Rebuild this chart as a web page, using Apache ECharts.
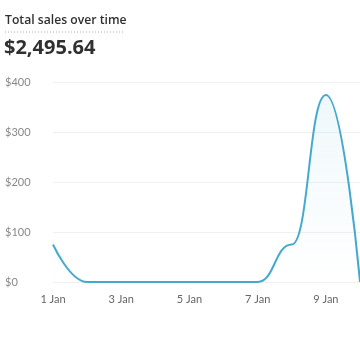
<!DOCTYPE html>
<html><head><meta charset="utf-8">
<script src="https://cdn.jsdelivr.net/npm/echarts@6/dist/echarts.min.js"></script>
<style>html,body{margin:0;padding:0;background:#fff}#c{width:360px;height:360px}</style>
</head><body><div id="c"></div>
<script>
const categories = ['1 Jan','2 Jan','3 Jan','4 Jan','5 Jan','6 Jan','7 Jan','8 Jan','9 Jan','10 Jan'];
const sales = [75, 0, 0, 0, 0, 0, 0, 75, 374, 0];
const yTicks = [0, 100, 200, 300, 400];
const titleText = 'Total sales over time';
const totalText = '$2,495.64';

const chart = echarts.init(document.getElementById('c'));
chart.setOption({
  animation: false,
  grid: {left: 53, right: -15, top: 82, bottom: 78},
  graphic: [
    {type: 'text', left: 5, top: 15, style: {text: titleText, font: '600 12.2px "Open Sans", sans-serif', fill: '#303030'}},
    {type: 'line', shape: {x1: 5, y1: 32, x2: 125, y2: 32}, style: {stroke: '#aaa', lineWidth: 1, lineDash: [1, 2]}},
    {type: 'text', left: 4, top: 38, style: {text: totalText, font: '700 20px "Open Sans", sans-serif', fill: '#303030'}}
  ],
  xAxis: {
    type: 'category', data: categories, boundaryGap: false,
    axisLine: {show: false}, axisTick: {show: false},
    axisLabel: {interval: 1, color: '#666', fontSize: 11, margin: 12, fontFamily: 'Lato, sans-serif'}
  },
  yAxis: {
    type: 'value', min: yTicks[0], max: yTicks[yTicks.length - 1], interval: 100,
    axisLabel: {formatter: v => '$' + v, align: 'left', margin: 48, color: '#888', fontSize: 11, fontFamily: 'Lato, sans-serif'},
    splitLine: {lineStyle: {color: '#f0f0f0'}},
    axisLine: {show: false}, axisTick: {show: false}
  },
  series: [{
    type: 'line', data: sales, smooth: 0.5, smoothMonotone: 'x', showSymbol: false,
    lineStyle: {color: '#45a9cf', width: 2},
    areaStyle: {color: new echarts.graphic.LinearGradient(0, 0, 0, 1, [
      {offset: 0, color: 'rgba(69,169,207,0.12)'}, {offset: 1, color: 'rgba(69,169,207,0.0)'}
    ])}
  }]
});
</script></body></html>
